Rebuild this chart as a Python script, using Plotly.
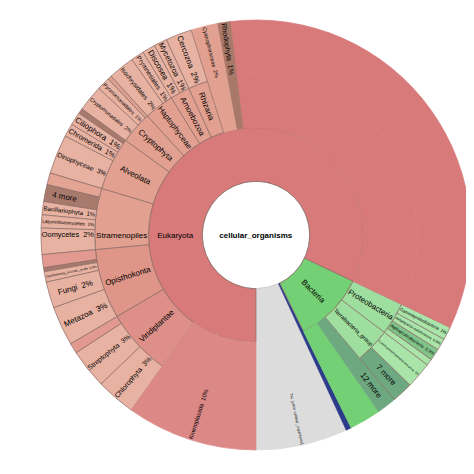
import plotly.graph_objects as go

ids = []; parents = []; values = []; colors = []; texts = []; lines = []

EUK = "#d8797a"; BAC = "#74d074"; OTH = "#dcdcdc"; R2 = "#e2a090"; R3 = "#e8b2a2"; DARK = "#a87a6e"
BG2 = "#9ede9e"; BG3 = "#a9e4a9"; GD = "#6ea880"; ARC = "#2c3a8a"

def add(i, p, v, c, t="", hide=False):
    ids.append(i); parents.append(p); values.append(v); colors.append(c); texts.append(t)
    lines.append(c if hide else "#8a6a64")

def span(i, p, v, c, t):
    add(i, p, 0, c, "", hide=True)
    add(i + "_o", i, v, c, t, hide=True)

add("root", "", 0, "white", "<b>cellular_organisms</b>")
add("Euk", "root", 0, EUK, "Eukaryota")

span("Kin", "Euk", 10, "#db8886", "Kinetoplastida  10%")
add("Vir", "Euk", 0, "#dd8f88", "Viridiplantae")
add("Chl", "Vir", 3, R3, "Chlorophyta  3%")
add("Str", "Vir", 3, R3, "Streptophyta  3%")
add("Vsm", "Vir", 0.8, "#e29a90")
add("Opi", "Euk", 0, "#df9688", "Opisthokonta")
add("Met", "Opi", 3, R3, "Metazoa  3%")
add("Fun", "Opi", 2, R3, "Fungi  2%")
add("Ois", "Opi", 0.8, R3, "Opisthokonta_incertae_sedis  0.8%")
add("Osm", "Opi", 0.3, DARK)
add("Oun", "Opi", 1.0, "#e29a90")
add("Stm", "Euk", 0, R2, "Stramenopiles")
add("Oom", "Stm", 2, R3, "Oomycetes  2%")
add("Lab", "Stm", 1, R3, "Labyrinthulomycetes  1%")
add("Bac1", "Stm", 1, R3, "Bacillariophyta  1%")
add("4m", "Stm", 1.3, DARK, "4 more")
add("Sun", "Stm", 0.9, "#e4a494")
add("Alv", "Euk", 0, R2, "Alveolata")
add("Din", "Alv", 3, R3, "Dinophyceae  3%")
add("Chr", "Alv", 1, R3, "Chromerida  1%")
add("Cil", "Alv", 1, R3, "Ciliophora  1%")
add("Asm", "Alv", 0.4, DARK)
add("Cry", "Euk", 0, R2, "Cryptophyta")
add("Crm", "Cry", 2, R3, "Cryptomonadales  2%")
add("Pyr", "Cry", 1, R3, "Pyrenomonadales  1%")
add("Csm", "Cry", 0.3, "#dfa090")
add("Hap", "Euk", 0, R2, "Haptophyceae")
add("Iso", "Hap", 2, R3, "Isochrysidales  2%")
add("Pry", "Hap", 1, R3, "Prymnesiales  1%")
add("Amo", "Euk", 0, R2, "Amoebozoa")
add("Dis", "Amo", 1, R3, "Discosea  1%")
add("Myc", "Amo", 1, R3, "Mycetozoa  1%")
add("Rhi", "Euk", 0, R2, "Rhizaria")
add("Cer", "Rhi", 2, R3, "Cercozoa  2%")
span("Cya", "Euk", 2, R2, "Cyanophoraceae  2%")
span("Rho", "Euk", 1, "#a87868", "Rhodophyta  1%")
span("Eun", "Euk", 34.5, EUK, "")

add("Bact", "root", 0, BAC, "Bacteria")
add("Pro", "Bact", 0, BG2, "Proteobacteria")
add("Gam", "Pro", 1, BG3, "Gammaproteobacteria  1%")
add("Del", "Pro", 0.9, BG3, "delta/epsilon subdivisions  0.9%")
add("Alp", "Pro", 0.9, "#80c48a", "Alphaproteobacteria  0.9%")
add("Psm", "Pro", 0.5, BG3)
add("Ter", "Bact", 0, BG2, "Terrabacteria_group")
add("Cyb", "Ter", 2, BG3, "Cyanobacteria/Melainabacteria group  2%")
add("7m", "Ter", 1.6, GD, "7 more")
span("12m", "Bact", 1.5, GD, "12 more")
span("Bun", "Bact", 2.4, BAC, "")
add("Arc", "root", 0, ARC, "", hide=True)
add("Arc2", "Arc", 0, ARC, "", hide=True)
add("Arc3", "Arc2", 0.4, ARC, "", hide=True)
add("Oth", "root", 0, OTH, "", hide=True)
add("Oth2", "Oth", 0, OTH, "", hide=True)
add("Oth3", "Oth2", 7, OTH, "7%  [other cellular_organisms]", hide=True)

# Plotly draws counter-clockwise: reverse sibling order to mimic Krona's clockwise layout
R = lambda a: a[::-1]

fig = go.Figure(go.Sunburst(
    ids=R(ids), labels=R(ids), parents=R(parents), values=R(values), text=R(texts),
    texttemplate="%{text}", branchvalues="remainder", sort=False,
    rotation=-90, maxdepth=-1,
    marker=dict(colors=R(colors), line=dict(color=R(lines), width=0.7)),
    leaf=dict(opacity=1),
    insidetextorientation="radial",
    textfont=dict(family="Liberation Sans, Arial", size=8, color="black"),
    domain=dict(x=[33/474, 463/474], y=[30/474, 464/474]),
    hoverinfo="skip",
))
fig.update_layout(width=474, height=474, margin=dict(l=0, r=0, t=0, b=0),
                  paper_bgcolor="white")
fig.write_html("out.html")
